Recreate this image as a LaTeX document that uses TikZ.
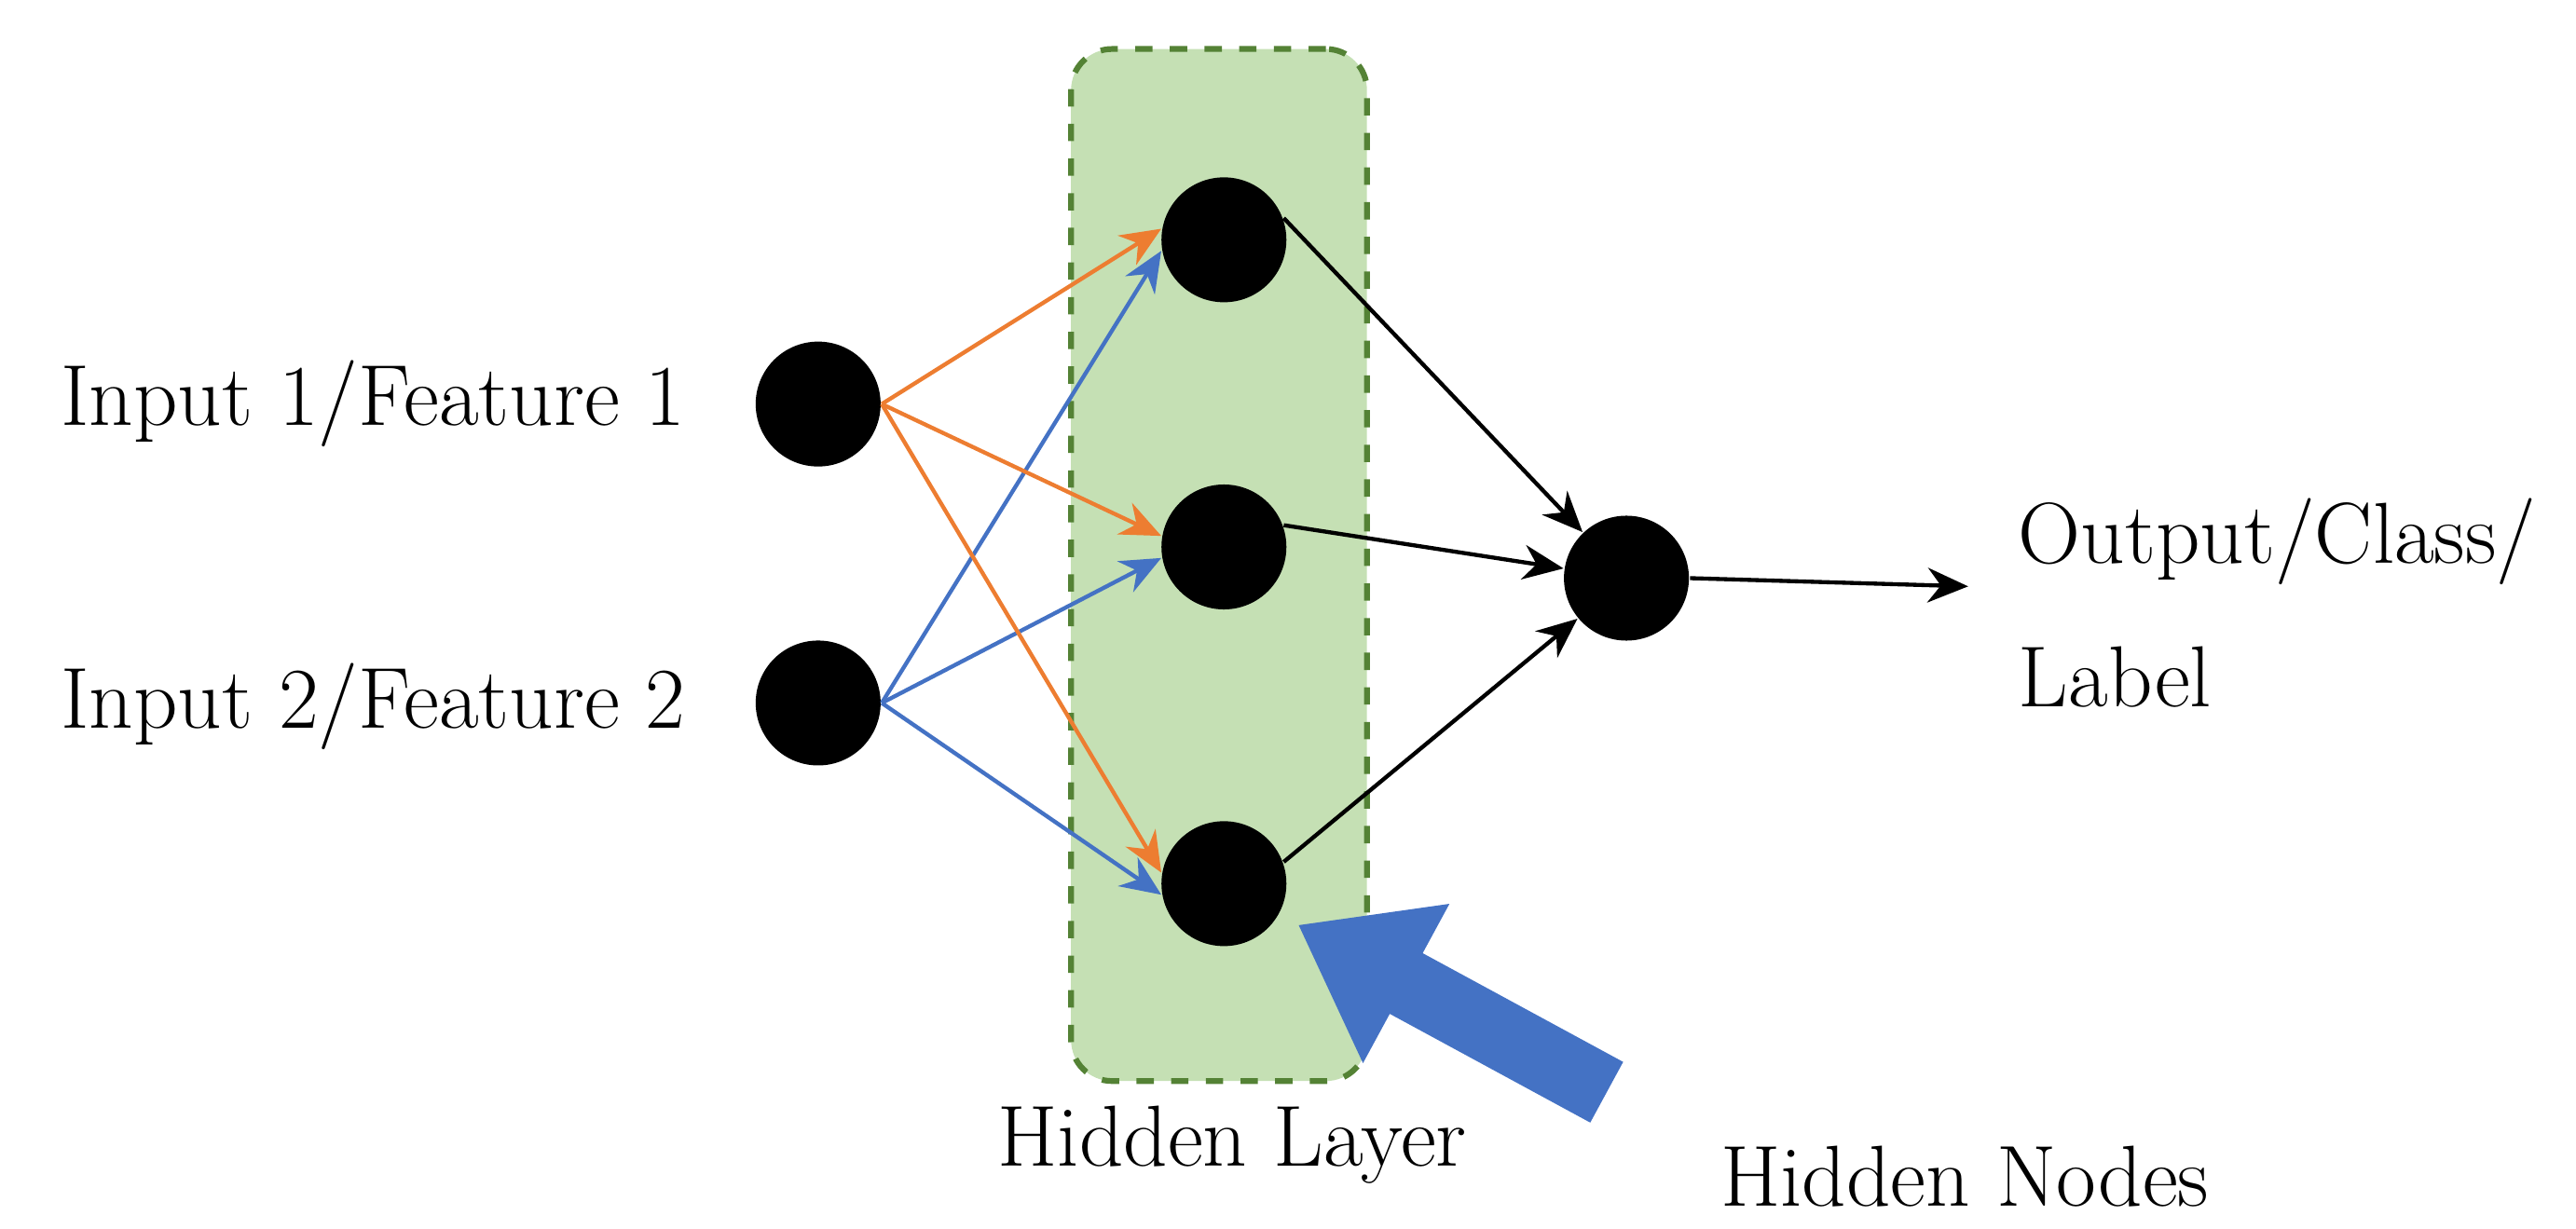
\documentclass[tikz,border=0pt]{standalone}
\usetikzlibrary{arrows.meta}
\definecolor{myorange}{RGB}{237,125,49}
\definecolor{myblue}{RGB}{68,114,196}
\definecolor{mygreen}{RGB}{197,224,180}
\definecolor{mydgreen}{RGB}{84,130,53}
\begin{document}
\begin{tikzpicture}[x=0.01cm,y=-0.01cm,
  neuron/.style={circle,fill=black,minimum size=0.76cm,inner sep=0pt},
  lbl/.style={font=\fontsize{15}{18}\selectfont,inner sep=0pt},
  org/.style={draw=myorange,line width=0.7pt,-{Stealth[length=7pt,width=6pt]}},
  blu/.style={draw=myblue,line width=0.7pt,-{Stealth[length=7pt,width=6pt]}},
  blk/.style={draw=black,line width=0.7pt,-{Stealth[length=7pt,width=6pt]}}]
\useasboundingbox (0,0) rectangle (1568,748);
\node[draw=mydgreen,dashed,line width=1pt,fill=mygreen,rounded corners=0.25cm,minimum width=1.8cm,minimum height=6.28cm] (layer) at (742,344) {};
\node[neuron] (i1) at (498,246) {};
\node[neuron] (i2) at (498,428) {};
\node[neuron] (h1) at (745,146) {};
\node[neuron] (h2) at (745,333) {};
\node[neuron] (h3) at (745,538) {};
\node[neuron] (o) at (990,352) {};
\coordinate (oe) at (1198,357);
\node[lbl,anchor=east] (t1) at (418,246) {Input 1/Feature 1};
\node[lbl,anchor=east] (t2) at (418,430) {Input 2/Feature 2};
\node[lbl,anchor=west] (t3) at (1228,330) {Output/Class/};
\node[lbl,anchor=west] (t4) at (1228,412) {Label};
\node[lbl] (t5) at (750,697) {Hidden Layer};
\node[lbl] (t6) at (1196,716) {Hidden Nodes};
\foreach \h in {h1,h2,h3} {
  \draw[org] (i1.east) -- (\h.170);
  \draw[blu] (i2.east) -- (\h.190);
  \draw[blk] (\h.20) -- (o);}
\draw[blk] (o.east) -- (oe);
\coordinate (bt) at (978,665);
\coordinate (bh) at (790,563);
\draw[draw=myblue,line width=0.42cm,-{Triangle[length=0.75cm,width=1.05cm]}] (bt) -- (bh);
\end{tikzpicture}
\end{document}
